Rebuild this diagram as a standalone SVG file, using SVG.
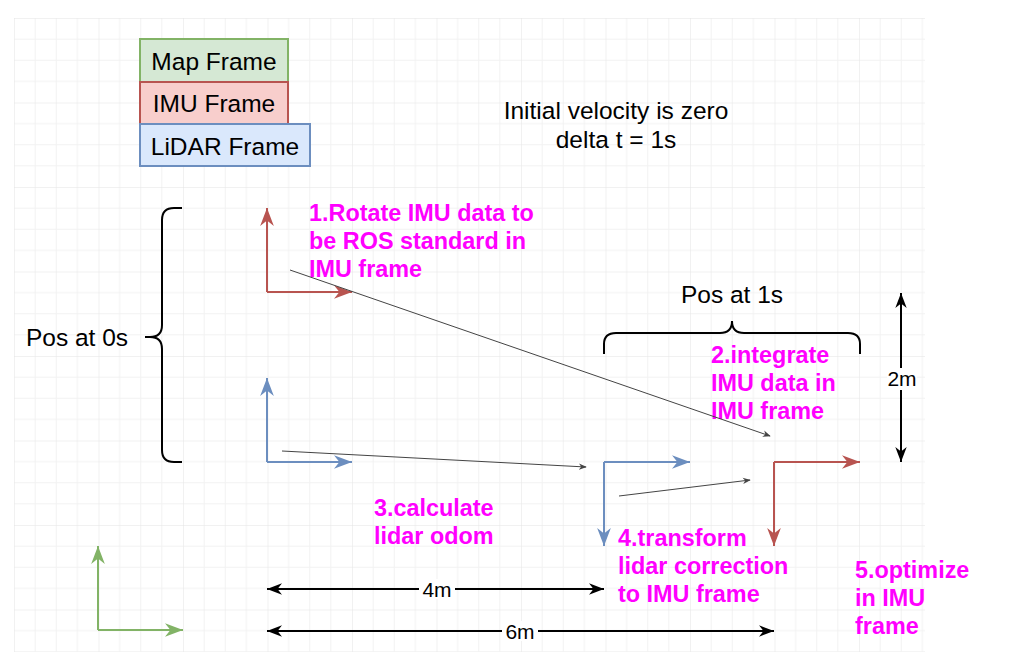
<svg xmlns="http://www.w3.org/2000/svg" width="1021" height="665" viewBox="0 0 1021 665">
<style>
text{font-family:"Liberation Sans",Arial,sans-serif;fill:#000}
.lg{font-size:24.5px;text-anchor:middle}
.m{font-size:23.4px;font-weight:bold;fill:#ff00ff}
.r{stroke:#b85450;stroke-width:2;fill:none}
.b{stroke:#6c8ebf;stroke-width:2;fill:none}
.g{stroke:#82b366;stroke-width:2;fill:none}
.k{stroke:#000;stroke-width:2;fill:none}
.t{stroke:#444;stroke-width:1;fill:none}
</style>
<defs>
<pattern id="grid" x="14" y="18" width="84.5" height="84.5" patternUnits="userSpaceOnUse">
<path d="M21.1 0V84.5M42.25 0V84.5M63.4 0V84.5M0 21.1H84.5M0 42.25H84.5M0 63.4H84.5" stroke="#f2f2f2" stroke-width="1"/>
<path d="M0 0V84.5M0 0H84.5" stroke="#e4e4e4" stroke-width="1"/>
</pattern>
<marker id="ar" viewBox="0 0 10 10" refX="10" refY="5" markerWidth="18" markerHeight="18" orient="auto" markerUnits="userSpaceOnUse"><path d="M0 1.2L10 5L0 8.8L3 5z" fill="#b85450"/></marker>
<marker id="ab" viewBox="0 0 10 10" refX="10" refY="5" markerWidth="18" markerHeight="18" orient="auto" markerUnits="userSpaceOnUse"><path d="M0 1.2L10 5L0 8.8L3 5z" fill="#6c8ebf"/></marker>
<marker id="ag" viewBox="0 0 10 10" refX="10" refY="5" markerWidth="18" markerHeight="18" orient="auto" markerUnits="userSpaceOnUse"><path d="M0 1.2L10 5L0 8.8L3 5z" fill="#82b366"/></marker>
<marker id="ak" viewBox="0 0 10 10" refX="10" refY="5" markerWidth="15" markerHeight="15" orient="auto-start-reverse" markerUnits="userSpaceOnUse"><path d="M0 1.2L10 5L0 8.8L3 5z" fill="#000"/></marker>
<marker id="at" viewBox="0 0 10 10" refX="9" refY="5" markerWidth="8" markerHeight="8" orient="auto" markerUnits="strokeWidth"><path d="M0 1L10 5L0 9L3 5z" fill="#444"/></marker>
</defs>
<rect width="1021" height="665" fill="#fff"/>
<rect x="14" y="18" width="911" height="634" fill="url(#grid)"/>
<g id="legend-map"><rect x="140" y="39" width="148" height="43" fill="#d5e8d4" stroke="#82b366" stroke-width="2"/><text class="lg" x="214" y="70">Map Frame</text></g>
<g id="legend-imu"><rect x="140" y="82" width="148" height="42" fill="#f8cecc" stroke="#b85450" stroke-width="2"/><text class="lg" x="214" y="112">IMU Frame</text></g>
<g id="legend-lidar"><rect x="140" y="124" width="170" height="42" fill="#dae8fc" stroke="#6c8ebf" stroke-width="2"/><text class="lg" x="225" y="155">LiDAR Frame</text></g>
<g id="note"><text class="lg" x="616" y="119">Initial velocity is zero</text><text class="lg" x="616" y="148">delta t = 1s</text></g>
<g id="imu0"><path class="r" d="M267 292V208" marker-end="url(#ar)"/><path class="r" d="M267 292H352" marker-end="url(#ar)"/></g>
<g id="lidar0"><path class="b" d="M267 462V378" marker-end="url(#ab)"/><path class="b" d="M267 462H352" marker-end="url(#ab)"/></g>
<g id="map"><path class="g" d="M98 630V546" marker-end="url(#ag)"/><path class="g" d="M98 630H183" marker-end="url(#ag)"/></g>
<g id="lidar1"><path class="b" d="M604 462H690" marker-end="url(#ab)"/><path class="b" d="M604 462V546" marker-end="url(#ab)"/></g>
<g id="imu1"><path class="r" d="M774 462H860" marker-end="url(#ar)"/><path class="r" d="M774 462V546" marker-end="url(#ar)"/></g>
<g id="brace0"><path class="k" d="M182 208H174Q162 208 162 220V325Q162 337 150 337H145M150 337Q162 337 162 349V450Q162 462 174 462H182"/><text x="77" y="346" font-size="24.5" text-anchor="middle">Pos at 0s</text></g>
<g id="brace1"><path class="k" d="M604 354V344Q604 333 616 333H720Q732 333 732 321M732 321Q732 333 744 333H848Q860 333 860 344V354"/><text x="732" y="303" font-size="24.5" text-anchor="middle">Pos at 1s</text></g>
<g id="labels">
<text class="m" x="309" y="221">1.Rotate IMU data to</text><text class="m" x="309" y="249">be ROS standard in</text><text class="m" x="309" y="277">IMU frame</text>
<text class="m" x="711" y="363">2.integrate</text><text class="m" x="711" y="391">IMU data in</text><text class="m" x="711" y="419">IMU frame</text>
<text class="m" x="374" y="516">3.calculate</text><text class="m" x="374" y="544">lidar odom</text>
<text class="m" x="618" y="546">4.transform</text><text class="m" x="618" y="574">lidar correction</text><text class="m" x="618" y="602">to IMU frame</text>
<text class="m" x="855" y="578">5.optimize</text><text class="m" x="855" y="606">in IMU</text><text class="m" x="855" y="634">frame</text>
</g>
<g id="connectors">
<path class="t" d="M290 270L770 436" marker-end="url(#at)"/>
<path class="t" d="M282 451L586 467" marker-end="url(#at)"/>
<path class="t" d="M619 496L750 480" marker-end="url(#at)"/>
<path class="k" d="M901 293V462" marker-start="url(#ak)" marker-end="url(#ak)"/>
<path class="k" d="M267 589H604" marker-start="url(#ak)" marker-end="url(#ak)"/>
<path class="k" d="M267 631H774" marker-start="url(#ak)" marker-end="url(#ak)"/>
<rect x="419" y="579" width="36" height="20" fill="#fff"/><text x="437" y="597" font-size="21" text-anchor="middle">4m</text>
<rect x="502" y="621" width="36" height="20" fill="#fff"/><text x="520" y="639" font-size="21" text-anchor="middle">6m</text>
<rect x="887" y="368" width="30" height="22" fill="#fff"/><text x="902" y="386" font-size="21" text-anchor="middle">2m</text>
</g>
</svg>
